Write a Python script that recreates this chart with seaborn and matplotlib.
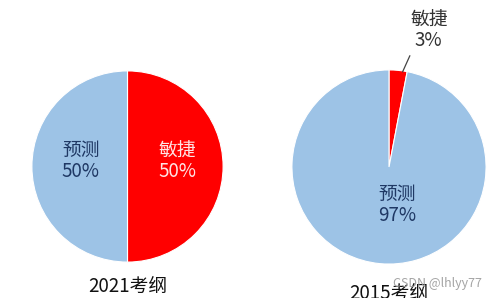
import matplotlib
matplotlib.use("Agg")
import matplotlib.pyplot as plt
import seaborn as sns

sns.set_theme(style="white")
plt.rcParams['font.family'] = ['Noto Sans CJK SC', 'DejaVu Sans']

categories = ["敏捷", "预测"]
values_2021 = [50, 50]
values_2015 = [3, 97]
titles = ["2021考纲", "2015考纲"]
colors = ["#FF0000", "#9DC3E6"]

W, H = 494, 298
fig = plt.figure(figsize=(W / 100, H / 100), dpi=100)
fig.patch.set_facecolor("white")

def make_ax(cx, cy, r):
    return fig.add_axes([(cx - r) / W, (H - cy - r) / H, 2 * r / W, 2 * r / H])

ax1 = make_ax(127.5, 166.5, 97.5)
ax2 = make_ax(389, 167, 99)

for ax, vals in [(ax1, values_2021), (ax2, values_2015)]:
    ax.pie(vals, colors=colors, startangle=90, counterclock=False,
           wedgeprops=dict(edgecolor="white", linewidth=0.8), radius=1)
    ax.set_xlim(-1.02, 1.02)
    ax.set_ylim(-1.02, 1.02)
    ax.set_aspect("equal")
    ax.axis("off")

fs = 13.5
# Left pie labels
ax1.text(0.52, 0.06, f"{categories[0]}\n{values_2021[0]}%", ha="center", va="center",
         fontsize=fs, color="#FFE4E4", linespacing=1.0)
ax1.text(-0.49, 0.06, f"{categories[1]}\n{values_2021[1]}%", ha="center", va="center",
         fontsize=fs, color="#1F3864", linespacing=1.0)

# Right pie labels
ax2.text(0.08, -0.39, f"{categories[1]}\n{values_2015[1]}%", ha="center", va="center",
         fontsize=fs, color="#1F3864", linespacing=1.0)
ax2.annotate(f"{categories[0]}\n{values_2015[0]}%", xy=(0.14, 0.98), xytext=(0.41, 1.41),
             textcoords="data", xycoords="data", ha="center", va="center",
             fontsize=fs, color="#333333", linespacing=1.0,
             arrowprops=dict(arrowstyle="-", color="#444444", lw=0.9,
                             shrinkA=1, shrinkB=0, relpos=(0.05, 0.0)),
             annotation_clip=False)

fig.text(127.5 / W, 1 - 286 / H, titles[0], ha="center", va="center", fontsize=fs, color="#111111")
fig.text(389 / W, 1 - 293 / H, titles[1], ha="center", va="center", fontsize=fs, color="#111111")
fig.text(437 / W, 1 - 283 / H, "CSDN @lhlyy77", ha="center", va="center", fontsize=9,
         color="#9A9A9A", alpha=0.9)

fig.savefig("out.png", dpi=100, facecolor="white")
